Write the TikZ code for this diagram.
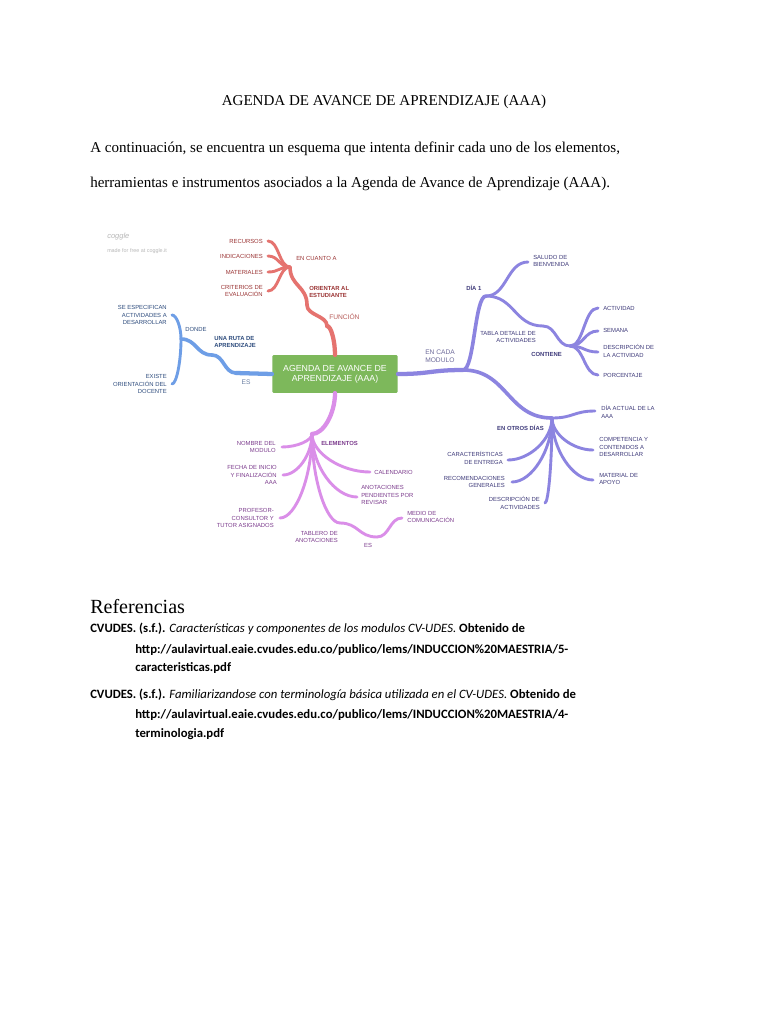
\documentclass[tikz,border=0pt]{standalone}
\usepackage{fontspec}
\setmainfont{Liberation Serif}
\newfontfamily\mapfont{Liberation Sans}
\newfontfamily\reffont{Carlito}
\usetikzlibrary{calc}
\definecolor{aaagreen}{HTML}{7DB85B}
\definecolor{redbr}{HTML}{E5736F}
\definecolor{redtx}{HTML}{9B3535}
\definecolor{bluebr}{HTML}{6E9EE6}
\definecolor{bluetx}{HTML}{2F4D7E}
\definecolor{lavbr}{HTML}{8C84E0}
\definecolor{lavtx}{HTML}{3E3A7A}
\definecolor{orchbr}{HTML}{DA8EE8}
\definecolor{orchtx}{HTML}{7D3D8E}
\newcommand\reftit[1]{{\mdseries\itshape #1}}
\begin{document}
\begin{tikzpicture}[
        x=0.797pt, y=-0.797pt,
        lbl/.style={font=\mapfont\fontsize{4.7}{5.9}\selectfont, inner sep=0pt, align=left},
        lblr/.style={lbl, align=right},
        lblb/.style={lbl, font=\mapfont\bfseries\fontsize{4.7}{5.9}\selectfont},
        lblbig/.style={lbl, font=\mapfont\fontsize{5.3}{6.6}\selectfont},
        page/.style={inner sep=0pt, anchor=base west, font=\fontsize{12}{14}\selectfont},
        refline/.style={inner sep=0pt, anchor=base west, font=\reffont\bfseries\fontsize{10.15}{12}\selectfont},
        every path/.style={line cap=round},
        lv1/.style={line width=3.4pt},
        lv2/.style={line width=2.9pt},
        lv3/.style={line width=2.3pt},
        hcurve/.style={to path={.. controls ($(\tikztostart)!0.5!(\tikztotarget |- \tikztostart)$)
            and ($(\tikztotarget)!0.5!(\tikztostart |- \tikztotarget)$) .. (\tikztotarget) \tikztonodes}},
        vcurve/.style={to path={.. controls ($(\tikztostart)!0.5!(\tikztostart |- \tikztotarget)$)
            and ($(\tikztotarget)!0.5!(\tikztotarget |- \tikztostart)$) .. (\tikztotarget) \tikztonodes}},
        vhcurve/.style={to path={.. controls ($(\tikztostart)!0.5!(\tikztostart |- \tikztotarget)$)
            and ($(\tikztotarget)!0.5!(\tikztostart |- \tikztotarget)$) .. (\tikztotarget) \tikztonodes}}
    ]
    \useasboundingbox[fill=white] (0,0) rectangle (768,1024);

    % page text
    \node[page, anchor=base] (titulo) at (384,105) {AGENDA DE AVANCE DE APRENDIZAJE (AAA)};
    \node[page] (intro1) at (90,152)
        {A continuación, se encuentra un esquema que intenta definir cada uno de los elementos,};
    \node[page] (intro2) at (90,187)
        {herramientas e instrumentos asociados a la Agenda de Avance de Aprendizaje (AAA).};

    % coggle mark
    \node[inner sep=0pt, anchor=base west, text=black!28,
        font=\mapfont\itshape\fontsize{6}{7}\selectfont] (logo) at (107,238) {coggle};
    \node[inner sep=0pt, anchor=base west, text=black!28,
        font=\mapfont\fontsize{4.3}{5}\selectfont] (logotx) at (107,252) {made for free at coggle.it};

    % centre
    \node[fill=aaagreen, text=white, align=center, minimum width=100pt, minimum height=30pt,
        rounded corners=1pt, font=\mapfont\fontsize{7}{8.2}\selectfont] (aaa) at (335,374)
        {AGENDA DE AVANCE DE\\APRENDIZAJE (AAA)};

    % red branch
    \coordinate (funcion) at (327,326);
    \coordinate (orientar) at (307,305);
    \coordinate (encuanto) at (290,267);
    \coordinate (recursos) at (268,241);
    \coordinate (indicaciones) at (268,256);
    \coordinate (materiales) at (268,272);
    \coordinate (criterios) at (268,291);
    \draw[redbr, lv1] (aaa.north) to[vhcurve] (funcion);
    \draw[redbr, lv2] (funcion) to[vcurve] (orientar);
    \draw[redbr, lv2] (orientar) to[vcurve] (encuanto);
    \foreach \c in {recursos, indicaciones, materiales, criterios}
        \draw[redbr, lv3] (encuanto) to[hcurve] (\c);
    \node[lblbig, text=redbr!80!black, anchor=west] (funcion-t) at (329,317) {FUNCIÓN};
    \node[lblb, text=redtx, anchor=west] (orientar-t) at (309,292) {ORIENTAR AL\\ESTUDIANTE};
    \node[lbl, text=redtx, anchor=west] (encuanto-t) at (296,258) {EN CUANTO A};
    \node[lblr, text=redtx, anchor=east] (recursos-t) at (263,241) {RECURSOS};
    \node[lblr, text=redtx, anchor=east] (indicaciones-t) at (263,256) {INDICACIONES};
    \node[lblr, text=redtx, anchor=east] (materiales-t) at (263,272) {MATERIALES};
    \node[lblr, text=redtx, anchor=east] (criterios-t) at (263,291) {CRITERIOS DE\\EVALUACIÓN};

    % blue branch
    \coordinate (es) at (236,373);
    \coordinate (ruta) at (212,355);
    \coordinate (donde) at (181,339);
    \coordinate (especifican) at (172,315);
    \coordinate (existe) at (172,384);
    \draw[bluebr, lv1] (aaa.west) to[hcurve] (es);
    \draw[bluebr, lv2] (es) to[hcurve] (ruta);
    \draw[bluebr, lv2] (ruta) to[hcurve] (donde);
    \draw[bluebr, lv3] (donde) to[vhcurve] (especifican);
    \draw[bluebr, lv3] (donde) to[vhcurve] (existe);
    \node[lblbig, text=bluetx!70, anchor=center] (es-t) at (246,382) {ES};
    \node[lblb, text=bluetx, anchor=west] (ruta-t) at (214,342) {UNA RUTA DE\\APRENDIZAJE};
    \node[lbl, text=bluetx, anchor=west] (donde-t) at (185,329) {DONDE};
    \node[lblr, text=bluetx, anchor=east] (especifican-t) at (167,315)
        {SE ESPECIFICAN\\ACTIVIDADES A\\DESARROLLAR};
    \node[lblr, text=bluetx, anchor=east] (existe-t) at (167,384)
        {EXISTE\\ORIENTACIÓN DEL\\DOCENTE};

    % lavender branch
    \coordinate (encada) at (463,370);
    \coordinate (dia) at (486,296);
    \coordinate (saludo) at (528,262);
    \coordinate (tabla) at (543,326);
    \coordinate (contiene) at (570,346);
    \coordinate (actividad) at (598,308);
    \coordinate (semana) at (598,331);
    \coordinate (descripcion) at (598,352);
    \coordinate (porcentaje) at (598,375);
    \coordinate (otros) at (552,418);
    \coordinate (diaactual) at (595,411);
    \coordinate (competencia) at (593,450);
    \coordinate (material) at (593,480);
    \coordinate (caracteristicas) at (508,460);
    \coordinate (recomendaciones) at (512,482);
    \coordinate (descripcion2) at (545,503);
    \draw[lavbr, lv1] (aaa.east) to[hcurve] (encada);
    \draw[lavbr, lv2] (encada) to[hcurve] (dia);
    \draw[lavbr, lv3] (dia) to[hcurve] (saludo);
    \draw[lavbr, lv3] (dia) to[hcurve] (tabla);
    \draw[lavbr, lv3] (tabla) to[hcurve] (contiene);
    \foreach \c in {actividad, semana, descripcion, porcentaje}
        \draw[lavbr, lv3] (contiene) to[hcurve] (\c);
    \draw[lavbr, lv2] (encada) to[hcurve] (otros);
    \draw[lavbr, lv3] (otros) to[hcurve] (diaactual);
    \foreach \c in {competencia, material, caracteristicas, recomendaciones, descripcion2}
        \draw[lavbr, lv3] (otros) to[vhcurve] (\c);
    \node[lblbig, text=lavtx!75, anchor=west] (encada-t) at (425,356) {EN CADA\\MODULO};
    \node[lblb, text=lavtx, anchor=west] (dia-t) at (466,288) {DÍA 1};
    \node[lbl, text=lavtx, anchor=west] (saludo-t) at (533,261) {SALUDO DE\\BIENVENIDA};
    \node[lblr, text=lavtx, anchor=east] (tabla-t) at (536,337) {TABLA DETALLE DE\\ACTIVIDADES};
    \node[lblb, text=lavtx, anchor=west] (contiene-t) at (531,354) {CONTIENE};
    \node[lbl, text=lavtx, anchor=west] (actividad-t) at (603,308) {ACTIVIDAD};
    \node[lbl, text=lavtx, anchor=west] (semana-t) at (603,330) {SEMANA};
    \node[lbl, text=lavtx, anchor=west] (descripcion-t) at (603,351) {DESCRIPCIÓN DE\\LA ACTIVIDAD};
    \node[lbl, text=lavtx, anchor=west] (porcentaje-t) at (603,375) {PORCENTAJE};
    \node[lblb, text=lavtx, anchor=east] (otros-t) at (544,428) {EN OTROS DÍAS};
    \node[lbl, text=lavtx, anchor=west] (diaactual-t) at (601,412) {DÍA ACTUAL DE LA\\AAA};
    \node[lbl, text=lavtx, anchor=west] (competencia-t) at (599,447)
        {COMPETENCIA Y\\CONTENIDOS A\\DESARROLLAR};
    \node[lbl, text=lavtx, anchor=west] (material-t) at (599,479) {MATERIAL DE\\APOYO};
    \node[lblr, text=lavtx, anchor=east] (caracteristicas-t) at (503,458)
        {CARACTERÍSTICAS\\DE ENTREGA};
    \node[lblr, text=lavtx, anchor=east] (recomendaciones-t) at (505,482)
        {RECOMENDACIONES\\GENERALES};
    \node[lblr, text=lavtx, anchor=east] (descripcion2-t) at (540,503)
        {DESCRIPCIÓN DE\\ACTIVIDADES};

    % orchid branch
    \coordinate (elementos) at (312,434);
    \coordinate (nombre) at (282,447);
    \coordinate (fecha) at (283,475);
    \coordinate (profesor) at (280,518);
    \coordinate (calendario) at (370,472);
    \coordinate (anotaciones) at (357,497);
    \coordinate (tablero) at (340,523);
    \coordinate (es2) at (377,537);
    \coordinate (medio) at (402,518);
    \draw[orchbr, lv1] (aaa.south) to[vhcurve] (elementos);
    \foreach \c in {nombre, fecha, profesor, calendario, anotaciones, tablero}
        \draw[orchbr, lv3] (elementos) to[vhcurve] (\c);
    \draw[orchbr, lv3] (tablero) to[hcurve] (es2);
    \draw[orchbr, lv3] (es2) to[hcurve] (medio);
    \node[lblb, text=orchtx, anchor=west] (elementos-t) at (321,443) {ELEMENTOS};
    \node[lblr, text=orchtx, anchor=east] (nombre-t) at (276,447) {NOMBRE DEL\\MODULO};
    \node[lblr, text=orchtx, anchor=east] (fecha-t) at (277,475) {FECHA DE INICIO\\Y FINALIZACIÓN\\AAA};
    \node[lblr, text=orchtx, anchor=east] (profesor-t) at (274,518)
        {PROFESOR-\\CONSULTOR Y\\TUTOR ASIGNADOS};
    \node[lbl, text=orchtx, anchor=west] (calendario-t) at (374,472) {CALENDARIO};
    \node[lbl, text=orchtx, anchor=west] (anotaciones-t) at (361,495)
        {ANOTACIONES\\PENDIENTES POR\\REVISAR};
    \node[lblr, text=orchtx, anchor=east] (tablero-t) at (338,537) {TABLERO DE\\ANOTACIONES};
    \node[lbl, text=orchtx, anchor=center] (es2-t) at (368,545) {ES};
    \node[lbl, text=orchtx, anchor=west] (medio-t) at (407,517) {MEDIO DE\\COMUNICACIÓN};

    % references
    \node[page, font=\fontsize{16}{18}\selectfont] (refs) at (90,613) {Referencias};
    \node[refline] (ref1a) at (90,632)
        {CVUDES. (s.f.). \reftit{Características y componentes de los modulos CV-UDES.} Obtenido de};
    \node[refline] (ref1b) at (135,653)
        {http://aulavirtual.eaie.cvudes.edu.co/publico/lems/INDUCCION\%20MAESTRIA/5-};
    \node[refline] (ref1c) at (135,671) {caracteristicas.pdf};
    \node[refline] (ref2a) at (90,698)
        {CVUDES. (s.f.). \reftit{Familiarizandose con terminología básica utilizada en el CV-UDES.} Obtenido de};
    \node[refline] (ref2b) at (135,718)
        {http://aulavirtual.eaie.cvudes.edu.co/publico/lems/INDUCCION\%20MAESTRIA/4-};
    \node[refline] (ref2c) at (135,737) {terminologia.pdf};
\end{tikzpicture}
\end{document}
